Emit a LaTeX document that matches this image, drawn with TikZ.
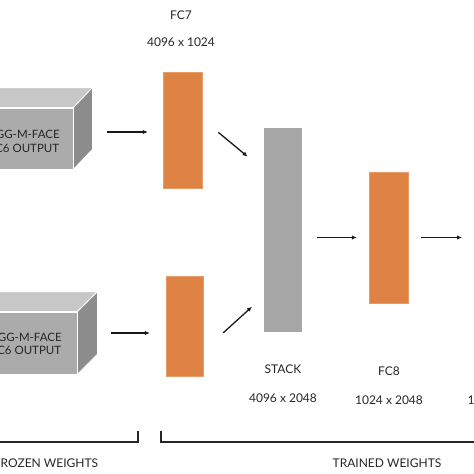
\documentclass[tikz,border=0pt]{standalone}
\usepackage{fontspec}
\setmainfont{Lato}
\usetikzlibrary{arrows.meta}
\definecolor{fcorange}{HTML}{DF8344}
\definecolor{stackgrey}{HTML}{A6A6A6}
\definecolor{inktext}{HTML}{262626}
\tikzset{
fclayer/.style={fill=fcorange, draw=fcorange!80!white, line width=0.4pt, inner sep=0pt},
stackbox/.style={fill=stackgrey, inner sep=0pt},
frontface/.style={fill=black!33, draw=white, line width=0.8pt, inner sep=0pt},
facetext/.style={align=center, text=inktext, font=\fontsize{11.5}{13.5}\selectfont},
topface/.style={fill=black!22, draw=white, line width=0.8pt},
sideface/.style={fill=black!45, draw=white, line width=0.8pt},
arr/.style={-{Latex[length=5pt,width=4.5pt]}, line width=1.3pt, black!90},
lbl/.style={text=inktext, font=\fontsize{12}{14}\selectfont},
brace/.style={line width=1.2pt, black!85}
}
\newcommand{\fcsize}[2]{#1 x #2}

\begin{document}
\begin{tikzpicture}[x=1pt, y=-1pt]
	\useasboundingbox (0,0) rectangle (474,474);
	\clip (0,0) rectangle (474,474);
	% frozen VGG-M-FACE outputs
	\node[frontface, minimum width=98pt, minimum height=61pt] (top3d) at (24,138.5) {};
	\fill[topface] (top3d.north west) -- ++(19,-20) -- ([shift={(19,-20)}]top3d.north east) -- (top3d.north east) -- cycle;
	\fill[sideface] (top3d.north east) -- ++(19,-20) -- ([shift={(19,-20)}]top3d.south east) -- (top3d.south east) -- cycle;
	\node[facetext] (top3dtext) at ([yshift=-3pt]top3d.center) {VGG-M-FACE\\FC6 OUTPUT};
	\node[frontface, minimum width=102pt, minimum height=62pt] (bot3d) at (26,343) {};
	\fill[topface] (bot3d.north west) -- ++(20,-20) -- ([shift={(20,-20)}]bot3d.north east) -- (bot3d.north east) -- cycle;
	\fill[sideface] (bot3d.north east) -- ++(20,-20) -- ([shift={(20,-20)}]bot3d.south east) -- (bot3d.south east) -- cycle;
	\node[facetext] (bot3dtext) at ([yshift=-1pt]bot3d.center) {VGG-M-FACE\\FC6 OUTPUT};

	% trained layers
	\node[fclayer, minimum width=39pt, minimum height=116pt] (fc7a) at (182.5,130) {};
	\node[fclayer, minimum width=37pt, minimum height=100pt] (fc7b) at (184.5,326) {};
	\node[stackbox, minimum width=38pt, minimum height=204pt] (stack) at (283,230) {};
	\node[fclayer, minimum width=39pt, minimum height=131pt] (fc8) at (388.5,237.5) {};
	\coordinate (fc9) at (462,237.5);

	\node[lbl] (fc7name) at (181,15) {FC7};
	\node[lbl] (fc7dim) at (181,42) {\fcsize{4096}{1024}};
	\node[lbl] (stackname) at (283,369) {STACK};
	\node[lbl] (stackdim) at (283,398) {\fcsize{4096}{2048}};
	\node[lbl] (fc8name) at (389,371) {FC8};
	\node[lbl] (fc8dim) at (389,400) {\fcsize{1024}{2048}};
	\node[lbl, anchor=west] (fc9dim) at (464,400) {1024};

	% connectors
	\draw[arr, shorten <=34pt, shorten >=15pt] ([yshift=-2pt]fc7a.west -| top3d.east) -- ([yshift=-2pt]fc7a.west);
	\draw[arr, shorten <=34pt, shorten >=16pt] ([yshift=-7pt]fc7b.west -| bot3d.east) -- ([yshift=-7pt]fc7b.west);
	\draw[arr, shorten <=21pt, shorten >=21pt] ([yshift=11pt]fc7a.east) -- ([yshift=60pt]stack.west);
	\draw[arr, shorten <=27pt, shorten >=16pt] ([yshift=-25pt]fc7b.east) -- ([yshift=-66pt]stack.west);
	\draw[arr, shorten <=15pt, shorten >=12pt] (fc8.west -| stack.east) -- (fc8.west);
	\draw[arr, shorten <=13pt] (fc8.east) -- (fc9);

	% weight groups
	\draw[brace] (-5,442) -- (138,442) -- (138,431);
	\draw[brace] (161,431) -- (161,442) -- (480,442);
	\node[lbl] (frozen) at (46,463) {FROZEN WEIGHTS};
	\node[lbl] (trained) at (387,463) {TRAINED WEIGHTS};
\end{tikzpicture}
\end{document}
